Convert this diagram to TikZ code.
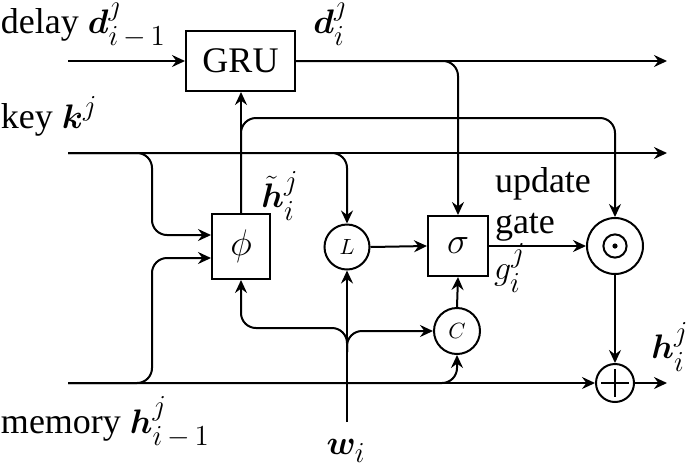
\RequirePackage{fix-cm}
\documentclass[tikz,border=0pt]{standalone}
\usepackage{amsmath}
\usepackage{bm}
\usepackage{fontspec}
\setmainfont{Liberation Serif}
\DeclareMathSizes{18}{17}{14.5}{10}
\DeclareMathSizes{21}{18.5}{14}{10}
\DeclareMathSizes{11}{11}{8}{6}
\newcommand\imo{i\mskip3mu-\mskip3mu1}
\usetikzlibrary{arrows.meta,calc}
\begin{document}
\begin{tikzpicture}[x=0.5pt,y=-0.5pt,
  line width=1pt,
  font=\fontsize{18}{21}\selectfont,
  >={Stealth[length=6.5pt,width=6pt,inset=2.2pt]},
  flow/.style={->,rounded corners=7.5pt},
  sqbox/.style={draw,rectangle,inner sep=0pt},
  bigm/.style={font=\fontsize{21}{24}\selectfont},
  circ/.style={draw,circle,inner sep=0pt},
  smallm/.style={font=\fontsize{11}{13}\selectfont},
  lbl/.style={inner sep=0pt}]
\useasboundingbox (0,0) rectangle (691,468);
% blocks
\node[sqbox,minimum width=54.5pt,minimum height=30pt] (gru) at (240.5,61) {GRU};
\node[sqbox,bigm,minimum width=29pt,minimum height=32.5pt] (phi) at (241,246.5) {$\phi$};
\node[sqbox,bigm,minimum width=30pt,minimum height=30pt] (sig) at (458,246) {$\sigma$};
\node[circ,smallm,minimum size=22.5pt] (L) at (347,247) {$L$};
\node[circ,smallm,minimum size=23pt] (C) at (457,331) {$C$};
\node[circ,minimum size=28pt,
  path picture={\draw (path picture bounding box.center) circle (5.8pt);
                \fill (path picture bounding box.center) circle (1.3pt);}] (odot) at (615,246) {};
\node[circ,minimum size=19pt,
  path picture={\draw ($(path picture bounding box.center)+(-14,0)$) -- ($(path picture bounding box.center)+(14,0)$);
                \draw ($(path picture bounding box.center)+(0,-14)$) -- ($(path picture bounding box.center)+(0,14)$);}] (plus) at (615,383) {};
% in/out points
\coordinate (din) at (68,61);
\coordinate (dout) at (667,61);
\coordinate (kin) at (68,153);
\coordinate (kout) at (667,153);
\coordinate (min) at (68,383);
\coordinate (hout) at (667,383);
\coordinate (win) at (347,422);
\coordinate (wsplit) at (347,352);
\coordinate (kbr) at (152,200);
\coordinate (mbr) at (152,300);
\coordinate (hb) at (615,118);
\coordinate (wl) at (241,328);
% labels
\node[lbl,anchor=base west] (ld) at (0,33) {delay $\bm{d}^j_{\imo}$};
\node[lbl,anchor=base] (ldo) at (331,33) {$\bm{d}^j_i$};
\node[lbl,anchor=base west] (lk) at (0,128) {key $\bm{k}^j$};
\node[lbl,anchor=base west] (lu) at (494,192) {update};
\node[lbl,anchor=base west] (lg) at (494,233) {gate};
\node[lbl] (lgi) at (510,268) {$g^j_i$};
\node[lbl] (lht) at (280,196) {$\tilde{\bm{h}}^j_i$};
\node[lbl] (lh) at (670,347) {$\bm{h}^j_i$};
\node[lbl,anchor=base west] (lm) at (0,433) {memory $\bm{h}^j_{\imo}$};
\node[lbl] (lw) at (346,451) {$\bm{w}_i$};
% connectors
\draw[->] (din) -- (gru.west);
\draw[->] (gru.east) -- (dout);
\draw[flow] (gru.east) -| (sig.north);
\draw[->] (kin) -- (kout);
\draw[flow] (kin) -| (kbr) |- ($(phi.west)+(0,-11.5)$);
\draw[flow] (kin) -| (L.north);
\draw[->] (phi.north) -- (phi.north |- gru.south);
\draw[flow] (phi.north) |- (hb) -- (odot.north);
\draw[->] (min) -- (plus.west);
\draw[->] (plus.east) -- (hout);
\draw[flow] (min) -| (mbr) |- ($(phi.west)+(0,11.5)$);
\draw[flow] (min) -| (C.south);
\draw[->] (L.east) -- (sig.west);
\draw[->] (C.north) -- (sig.south);
\draw[->] (sig.east) -- (odot.west);
\draw[->] (odot.south) -- (plus.north);
\draw[->] (win) -- (L.south);
\draw[flow] (wsplit) |- (wl) -- (phi.south);
\draw[flow] (wsplit) |- (C.west);
\end{tikzpicture}
\end{document}
